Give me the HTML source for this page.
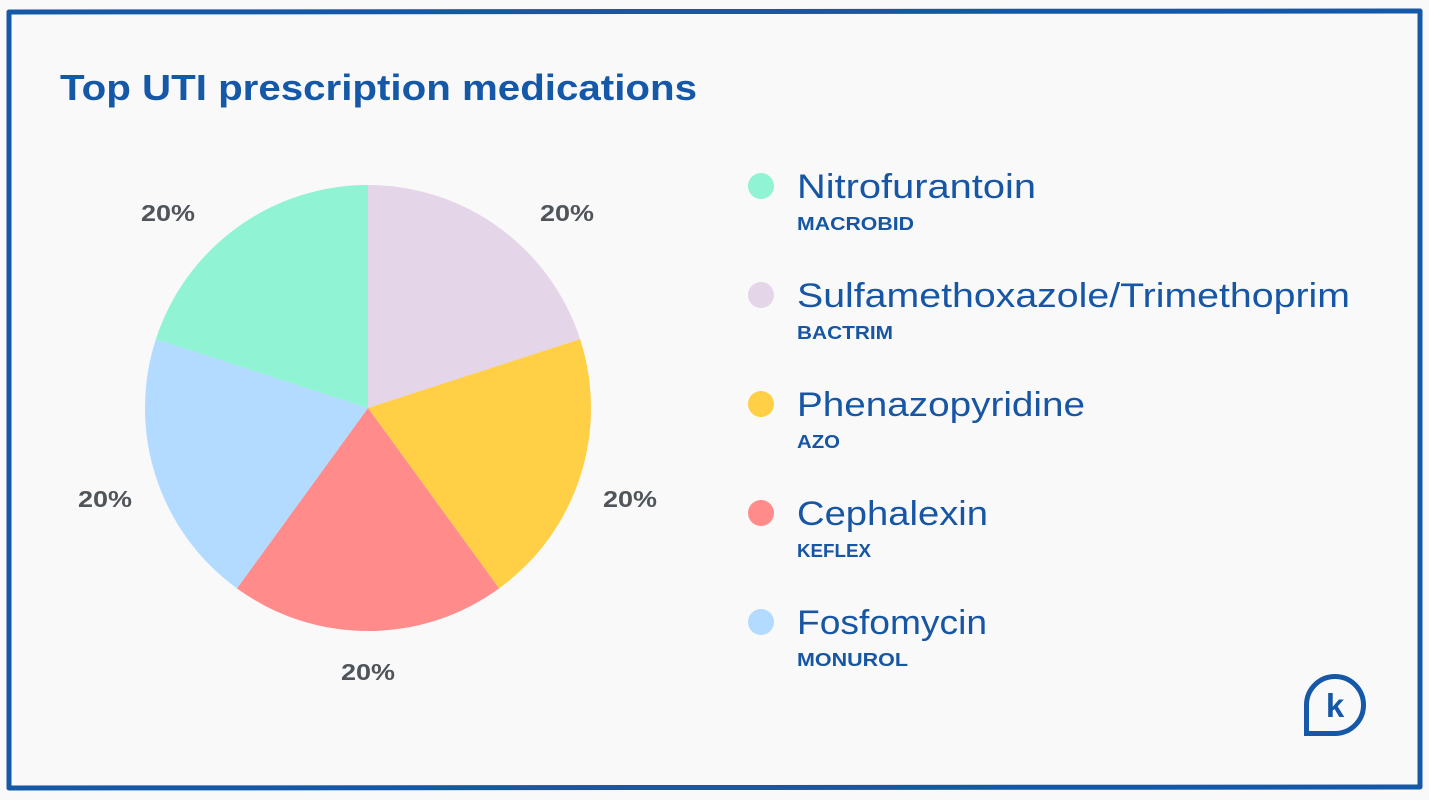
<!DOCTYPE html>
<html><head><meta charset="utf-8"><style>
html,body{margin:0;padding:0;background:#f9f9f9;}
svg{display:block;}
text{font-family:"Liberation Sans",sans-serif;}
</style></head><body>
<svg width="1429" height="800" viewBox="0 0 1429 800" xmlns="http://www.w3.org/2000/svg">
<rect width="1429" height="800" fill="#f9f9f9"/>
<path d="M9 12 L1420 11 L1420 787 L9 788 Z" fill="none" stroke="#1558a8" stroke-width="5" stroke-linejoin="round"/>
<text x="60" y="100" font-size="36" font-weight="bold" fill="#1558a8" textLength="637" lengthAdjust="spacingAndGlyphs">Top UTI prescription medications</text>
<g>
<path d="M368 408 L368 185 A223 223 0 0 1 580.1 339.1 Z" fill="#e5d5e8"/>
<path d="M368 408 L580.1 339.1 A223 223 0 0 1 499.1 588.4 Z" fill="#ffcf45"/>
<path d="M368 408 L499.1 588.4 A223 223 0 0 1 236.9 588.4 Z" fill="#ff8c8a"/>
<path d="M368 408 L236.9 588.4 A223 223 0 0 1 155.9 339.1 Z" fill="#b3dbff"/>
<path d="M368 408 L155.9 339.1 A223 223 0 0 1 368 185 Z" fill="#8ff3d4"/>
</g>
<g font-size="23" font-weight="bold" fill="#50555b" text-anchor="middle">
<text x="168" y="221" textLength="54" lengthAdjust="spacingAndGlyphs">20%</text>
<text x="567" y="221" textLength="54" lengthAdjust="spacingAndGlyphs">20%</text>
<text x="630" y="507" textLength="54" lengthAdjust="spacingAndGlyphs">20%</text>
<text x="368" y="680" textLength="54" lengthAdjust="spacingAndGlyphs">20%</text>
<text x="105" y="507" textLength="54" lengthAdjust="spacingAndGlyphs">20%</text>
</g>
<g fill="#1656a5">
<circle cx="761" cy="186" r="13" fill="#8ff3d4"/>
<text x="797" y="198" font-size="34" textLength="239" lengthAdjust="spacingAndGlyphs">Nitrofurantoin</text>
<text x="797" y="230" font-size="18" font-weight="bold" textLength="117" lengthAdjust="spacingAndGlyphs">MACROBID</text>
<circle cx="761" cy="295" r="13" fill="#e5d5e8"/>
<text x="797" y="307" font-size="34" textLength="553" lengthAdjust="spacingAndGlyphs">Sulfamethoxazole/Trimethoprim</text>
<text x="797" y="339" font-size="18" font-weight="bold" textLength="96" lengthAdjust="spacingAndGlyphs">BACTRIM</text>
<circle cx="761" cy="404" r="13" fill="#ffcf45"/>
<text x="797" y="416" font-size="34" textLength="288" lengthAdjust="spacingAndGlyphs">Phenazopyridine</text>
<text x="797" y="448" font-size="18" font-weight="bold" textLength="43" lengthAdjust="spacingAndGlyphs">AZO</text>
<circle cx="761" cy="513" r="13" fill="#ff8c8a"/>
<text x="797" y="525" font-size="34" textLength="191" lengthAdjust="spacingAndGlyphs">Cephalexin</text>
<text x="797" y="557" font-size="18" font-weight="bold" textLength="74" lengthAdjust="spacingAndGlyphs">KEFLEX</text>
<circle cx="761" cy="622" r="13" fill="#b3dbff"/>
<text x="797" y="634" font-size="34" textLength="190" lengthAdjust="spacingAndGlyphs">Fosfomycin</text>
<text x="797" y="666" font-size="18" font-weight="bold" textLength="111" lengthAdjust="spacingAndGlyphs">MONUROL</text>
</g>
<path d="M1306.5 733.5 L1306.5 705 A28.5 28.5 0 1 1 1335 733.5 Z" fill="none" stroke="#1558a8" stroke-width="5" stroke-linejoin="miter"/>
<text x="1335" y="717" font-size="33" font-weight="bold" fill="#1558a8" text-anchor="middle">k</text>
</svg>
</body></html>
